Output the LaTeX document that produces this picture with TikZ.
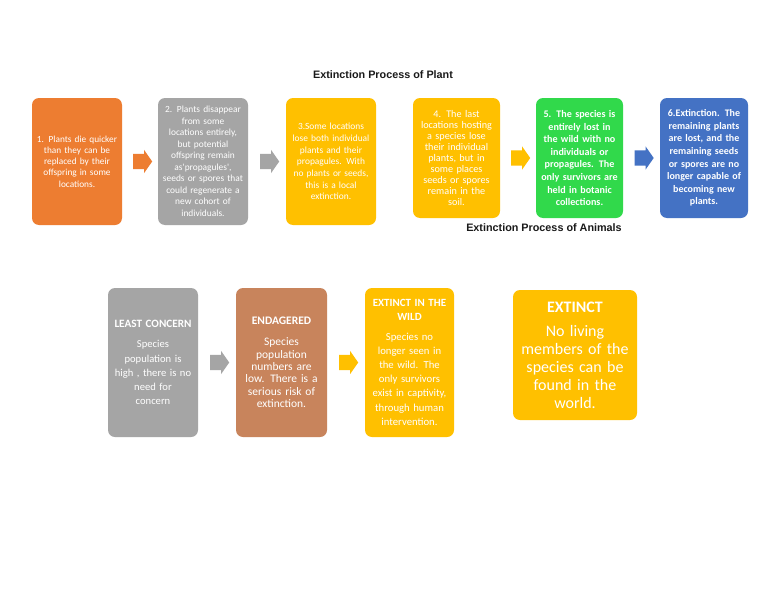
\documentclass[tikz,border=0pt]{standalone}
\usepackage{fontspec}
\usetikzlibrary{shapes.arrows,calc}
\newfontfamily\carlfont{Carlito}
\newfontfamily\arlfont{Liberation Sans}
\definecolor{cOrange}{HTML}{ED7D31}
\definecolor{cGray}{HTML}{A5A5A5}
\definecolor{cYellow}{HTML}{FFC000}
\definecolor{cGreen}{HTML}{31D94B}
\definecolor{cBlue}{HTML}{4472C4}
\definecolor{cBrown}{HTML}{C8845C}
\definecolor{cTitle}{HTML}{1A1A1A}
\tikzset{
  box/.style={rounded corners=7pt, text=white, align=center, inner xsep=1pt, inner ysep=3pt},
  blk/.style={single arrow, single arrow head extend=4pt, single arrow tip angle=110,
    minimum height=19pt, inner xsep=0pt, inner ysep=7.5pt, draw=none},
  ttl/.style={font=\arlfont\bfseries\fontsize{10.8}{12}\selectfont, text=cTitle, inner sep=0pt},
}
\begin{document}
\begin{tikzpicture}[x=1pt,y=-1pt]
\useasboundingbox (0,0) rectangle (768,594);
\fill[white] (0,0) rectangle (768,594);

\node[ttl] (t1) at (383,75) {Extinction Process of Plant};

% top row
\node[box, fill=cOrange, minimum width=90pt, minimum height=127pt, text width=88pt,
  font=\carlfont\fontsize{9.3}{11.2}\selectfont] (b1) at (77,161.5)
  {1. Plants die quicker\\than they can be\\replaced by their\\offspring in some\\locations.};
\node[box, fill=cGray, minimum width=90pt, minimum height=127pt, text width=88pt,
  font=\carlfont\fontsize{9.4}{11.5}\selectfont] (b2) at (203,161.5)
  {2. Plants disappear\\from some\\locations entirely,\\but potential\\offspring remain\\as'propagules',\\seeds or spores that\\could regenerate a\\new cohort of\\individuals.};
\node[box, fill=cYellow, minimum width=90pt, minimum height=127pt, text width=88pt,
  font=\carlfont\fontsize{9.4}{11.7}\selectfont] (b3) at (331,161.5)
  {3.Some locations\\lose both individual\\plants and their\\propagules. With\\no plants or seeds,\\this is a local\\extinction.};
\node[box, fill=cYellow, minimum width=87pt, minimum height=120pt, text width=85pt,
  font=\carlfont\fontsize{10.2}{11}\selectfont] (b4) at (456.5,158)
  {4. The last\\locations hosting\\a species lose\\their individual\\plants, but in\\some places\\seeds or spores\\remain in the\\soil.};
\node[box, fill=cGreen, minimum width=87pt, minimum height=120pt, text width=85pt,
  font=\carlfont\bfseries\fontsize{10.1}{12.6}\selectfont] (b5) at (579.5,158)
  {5. The species is\\entirely lost in\\the wild with no\\individuals or\\propagules. The\\only survivors are\\held in botanic\\collections.};
\node[box, fill=cBlue, minimum width=88pt, minimum height=120pt, text width=86pt,
  font=\carlfont\bfseries\fontsize{10}{12.6}\selectfont] (b6) at (704,158)
  {6.Extinction. The\\remaining plants\\are lost, and the\\remaining seeds\\or spores are no\\longer capable of\\becoming new\\plants.};

\node[blk, fill=cOrange] (a1) at ($(b1.east)!0.5!(b2.west)$) {};
\node[blk, fill=cGray] (a2) at ($(b2.east)!0.5!(b3.west)$) {};
\node[blk, fill=cYellow] (a3) at ($(b4.east)!0.5!(b5.west)$) {};
\node[blk, fill=cBlue] (a4) at ($(b5.east)!0.5!(b6.west)$) {};

\node[ttl] (t2) at (544,228) {Extinction Process of Animals};

% bottom row
\node[box, fill=cGray, minimum width=90pt, minimum height=149pt, text width=88pt,
  font=\carlfont\fontsize{10.6}{14.2}\selectfont] (c1) at (153,362.5)
  {\textbf{\fontsize{11.2}{14.2}\selectfont LEAST CONCERN}\\[6pt]Species\\population is\\high , there is no\\need for\\concern};
\node[box, fill=cBrown, minimum width=91pt, minimum height=149pt, text width=89pt,
  font=\carlfont\fontsize{11.5}{12.4}\selectfont] (c2) at (281.5,362.5)
  {\textbf{ENDAGERED}\\[8.6pt]Species\\population\\numbers are\\low. There is a\\serious risk of\\extinction.};
\node[box, fill=cYellow, minimum width=89pt, minimum height=149pt, text width=87pt,
  font=\carlfont\fontsize{10.7}{14.2}\selectfont] (c3) at (409.5,362.5)
  {\textbf{\fontsize{11}{14.2}\selectfont EXTINCT IN THE}\\\textbf{\fontsize{11}{14.2}\selectfont WILD}\\[5pt]Species no\\longer seen in\\the wild. The\\only survivors\\exist in captivity,\\through human\\intervention.};
\node[box, fill=cYellow, minimum width=124pt, minimum height=130pt, text width=122pt,
  font=\carlfont\fontsize{16}{18}\selectfont] (c4) at (575,355)
  {\textbf{EXTINCT}\\[6pt]No living\\members of the\\species can be\\found in the\\world.};

\node[blk, fill=cGray] (a5) at ($(c1.east)!0.5!(c2.west)$) {};
\node[blk, fill=cYellow] (a6) at ($(c2.east)!0.5!(c3.west)$) {};
\end{tikzpicture}
\end{document}
